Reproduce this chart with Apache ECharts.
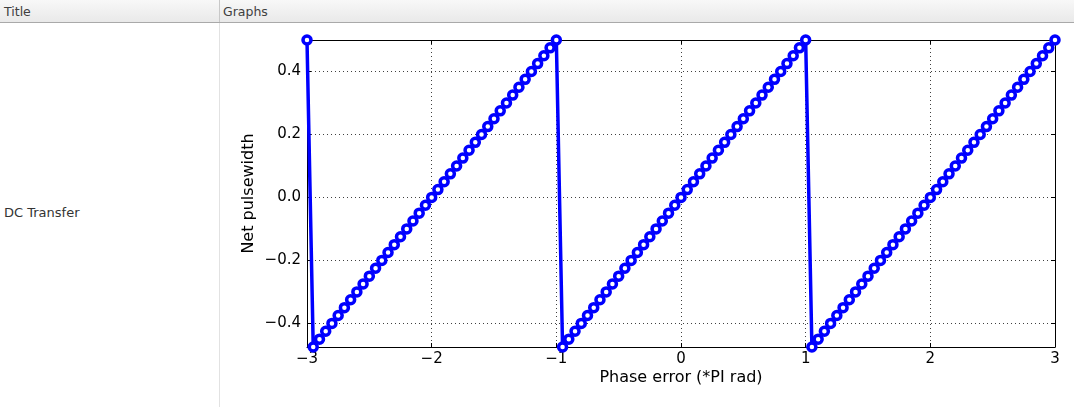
<!DOCTYPE html>
<html>
<head>
<meta charset="utf-8">
<script src="https://cdn.jsdelivr.net/npm/echarts@6/dist/echarts.min.js"></script>
<style>
  html, body { margin: 0; padding: 0; width: 1074px; height: 407px; overflow: hidden; background: #fff; font-family: "DejaVu Sans", sans-serif; }
  #hdr { position: absolute; left: 0; top: 0; width: 1074px; height: 22px; background: linear-gradient(#f8f8f8, #e9e9e9); border-bottom: 1px solid #a9a9a9; }
  .hcell { position: absolute; top: 0; height: 22px; line-height: 23px; font-size: 12.5px; color: #404040; }
  #hdiv { position: absolute; left: 219px; top: 0; width: 1px; height: 22px; background: #c8c8c8; }
  #bdiv { position: absolute; left: 219px; top: 23px; width: 1px; height: 384px; background: #e2e2e2; }
  #rowTitle { position: absolute; left: 4px; top: 205px; font-size: 13px; color: #333; }
  #chart { position: absolute; left: 220px; top: 23px; width: 854px; height: 384px; }
</style>
</head>
<body>
<div id="hdr">
  <div class="hcell" style="left:4px">Title</div>
  <div id="hdiv"></div>
  <div class="hcell" style="left:223px">Graphs</div>
</div>
<div id="bdiv"></div>
<div id="rowTitle">DC Transfer</div>
<div id="chart"></div>
<script>
// Phase error (*PI rad)
const phaseError = [-3.00,-2.95,-2.90,-2.85,-2.80,-2.75,-2.70,-2.65,-2.60,-2.55,-2.50,-2.45,-2.40,-2.35,-2.30,-2.25,-2.20,-2.15,-2.10,-2.05,
  -2.00,-1.95,-1.90,-1.85,-1.80,-1.75,-1.70,-1.65,-1.60,-1.55,-1.50,-1.45,-1.40,-1.35,-1.30,-1.25,-1.20,-1.15,-1.10,-1.05,
  -1.00,-0.95,-0.90,-0.85,-0.80,-0.75,-0.70,-0.65,-0.60,-0.55,-0.50,-0.45,-0.40,-0.35,-0.30,-0.25,-0.20,-0.15,-0.10,-0.05,
  0.00,0.05,0.10,0.15,0.20,0.25,0.30,0.35,0.40,0.45,0.50,0.55,0.60,0.65,0.70,0.75,0.80,0.85,0.90,0.95,
  1.00,1.05,1.10,1.15,1.20,1.25,1.30,1.35,1.40,1.45,1.50,1.55,1.60,1.65,1.70,1.75,1.80,1.85,1.90,1.95,
  2.00,2.05,2.10,2.15,2.20,2.25,2.30,2.35,2.40,2.45,2.50,2.55,2.60,2.65,2.70,2.75,2.80,2.85,2.90,2.95,3.00];
// Net pulsewidth
const netPulsewidth = [0.5,
  -0.475,-0.45,-0.425,-0.4,-0.375,-0.35,-0.325,-0.3,-0.275,-0.25,-0.225,-0.2,-0.175,-0.15,-0.125,-0.1,-0.075,-0.05,-0.025,0,
  0.025,0.05,0.075,0.1,0.125,0.15,0.175,0.2,0.225,0.25,0.275,0.3,0.325,0.35,0.375,0.4,0.425,0.45,0.475,0.5,
  -0.475,-0.45,-0.425,-0.4,-0.375,-0.35,-0.325,-0.3,-0.275,-0.25,-0.225,-0.2,-0.175,-0.15,-0.125,-0.1,-0.075,-0.05,-0.025,0,
  0.025,0.05,0.075,0.1,0.125,0.15,0.175,0.2,0.225,0.25,0.275,0.3,0.325,0.35,0.375,0.4,0.425,0.45,0.475,0.5,
  -0.475,-0.45,-0.425,-0.4,-0.375,-0.35,-0.325,-0.3,-0.275,-0.25,-0.225,-0.2,-0.175,-0.15,-0.125,-0.1,-0.075,-0.05,-0.025,0,
  0.025,0.05,0.075,0.1,0.125,0.15,0.175,0.2,0.225,0.25,0.275,0.3,0.325,0.35,0.375,0.4,0.425,0.45,0.475,0.5];
const xTickValues = [-3, -2, -1, 0, 1, 2, 3];
const xTickLabels = ['\u22123', '\u22122', '\u22121', '0', '1', '2', '3'];
const yTickValues = [-0.4, -0.2, 0, 0.2, 0.4];
const yTickLabels = ['\u22120.4', '\u22120.2', '0.0', '0.2', '0.4'];

function lookup(vals, labels, v) {
  for (let i = 0; i < vals.length; i++) if (Math.abs(vals[i] - v) < 1e-6) return labels[i];
  return '';
}

const FONT = 'DejaVu Sans';
const chart = echarts.init(document.getElementById('chart'), null, { renderer: 'canvas' });
const gridLine = { show: true, lineStyle: { color: '#000', width: 1, type: [1, 3], opacity: 0.75 } };
const frame = { show: true, onZero: false, lineStyle: { color: '#000', width: 1 } };
const tick = { show: true, inside: true, length: 4, lineStyle: { color: '#000', width: 1 } };

chart.setOption({
  animation: false,
  grid: { left: 87, top: 17, width: 748, height: 307, containLabel: false },
  xAxis: [{
    type: 'value', min: -3, max: 3, interval: 1,
    name: 'Phase error (*PI rad)', nameLocation: 'middle', nameGap: 23, nameMoveOverlap: false,
    nameTextStyle: { fontFamily: FONT, fontSize: 16, color: '#000', verticalAlign: 'top' },
    axisLine: frame, axisTick: tick, splitLine: gridLine,
    axisLabel: { margin: 5, fontFamily: FONT, fontSize: 15, color: '#000',
      formatter: v => lookup(xTickValues, xTickLabels, v) }
  }, {
    type: 'value', min: -3, max: 3, interval: 1, position: 'top',
    axisLine: frame, axisTick: tick, splitLine: { show: false }, axisLabel: { show: false }
  }],
  yAxis: [{
    type: 'value', min: -0.475, max: 0.5, splitNumber: 5,
    name: 'Net pulsewidth', nameLocation: 'middle', nameGap: 50, nameMoveOverlap: false,
    nameTextStyle: { fontFamily: FONT, fontSize: 16, color: '#000' },
    axisLine: frame, axisTick: tick, splitLine: gridLine,
    axisLabel: { margin: 6, fontFamily: FONT, fontSize: 15, color: '#000', showMinLabel: false, showMaxLabel: false,
      formatter: v => lookup(yTickValues, yTickLabels, v) }
  }, {
    type: 'value', min: -0.475, max: 0.5, splitNumber: 5, position: 'right',
    axisLine: frame, axisTick: tick, splitLine: { show: false }, axisLabel: { show: false }
  }],
  series: [{
    type: 'line',
    data: phaseError.map((x, i) => [x, netPulsewidth[i]]),
    clip: true,
    symbol: 'circle', symbolSize: 8, showAllSymbol: true,
    lineStyle: { color: '#0000ff', width: 3.5 },
    itemStyle: { color: '#ffffff', borderColor: '#0000ff', borderWidth: 3.5 },
    emphasis: { disabled: true },
    z: 3
  }]
});
</script>
</body>
</html>
